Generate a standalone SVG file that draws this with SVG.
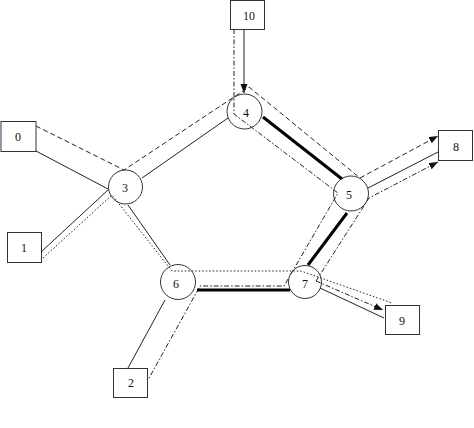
<svg xmlns="http://www.w3.org/2000/svg" width="474" height="428" viewBox="0 0 474 428">
<style>
.box{fill:#fff;stroke:#333;stroke-width:1}
.nd{fill:none;stroke:#333;stroke-width:1}
.lb{font-family:"Liberation Serif",serif;font-size:12px;fill:#111;text-anchor:middle;dominant-baseline:central}
.e{fill:none;stroke:#222;stroke-width:1}
.dash{stroke-dasharray:5,3}
.dot{stroke-dasharray:1.5,2}
.dd{stroke-dasharray:5,2,1.5,2}
.thick{fill:none;stroke:#000;stroke-width:3}
</style>
<defs>
<marker id="ah" markerUnits="userSpaceOnUse" markerWidth="10" markerHeight="8" refX="9" refY="3.5" orient="auto">
<path d="M0,0 L9,3.5 L0,7 z" fill="#111"/>
</marker>
</defs>
<rect width="474" height="428" fill="#fff"/>
<g id="connectors">
<line class="e" x1="36" y1="151" x2="108" y2="189"/>
<line class="e" x1="41" y1="252" x2="108" y2="190"/>
<line class="e" x1="142" y1="178" x2="228" y2="118"/>
<line class="e" x1="128" y1="205" x2="170" y2="265"/>
<line class="e" x1="165" y1="300" x2="128" y2="368"/>
<line class="e" x1="244" y1="29" x2="244" y2="93" marker-end="url(#ah)"/>
<line class="e" x1="368" y1="188" x2="438" y2="152"/>
<line class="e" x1="320" y1="288" x2="384" y2="318"/>
<polyline class="e dash" points="36,126 124,170 249,87 360,178 438,136" marker-end="url(#ah)"/>
<polyline class="e dot" points="43,258 112,195 172,271 301,271 392,303"/>
<polyline class="e dd" points="234,29 234,114 338,193 284,286 200,286 148,380"/>
<polyline class="e dd" points="316,281 369,198 438,162" marker-end="url(#ah)"/>
<polyline class="e dd" points="316,281 383,310" marker-end="url(#ah)"/>
<line class="thick" x1="197" y1="290" x2="290" y2="290"/>
<line class="thick" x1="308" y1="265" x2="347" y2="213"/>
<line class="thick" x1="342" y1="179" x2="263" y2="117"/>
</g>
<g id="n0"><rect class="box" x="1" y="121.5" width="35" height="30"/><text class="lb" x="18" y="137">0</text></g>
<g id="n1"><rect class="box" x="7.5" y="232.5" width="34" height="30"/><text class="lb" x="24" y="248">1</text></g>
<g id="n2"><rect class="box" x="113.5" y="368.5" width="34" height="29"/><text class="lb" x="131" y="383">2</text></g>
<g id="n3"><circle class="nd" cx="125.5" cy="187" r="17"/><text class="lb" x="125" y="188">3</text></g>
<g id="n4"><circle class="nd" cx="244.5" cy="111.5" r="17.5"/><text class="lb" x="246" y="113">4</text></g>
<g id="n5"><circle class="nd" cx="351" cy="193.5" r="17.5"/><text class="lb" x="349" y="195">5</text></g>
<g id="n6"><circle class="nd" cx="178" cy="282" r="17.5"/><text class="lb" x="176" y="284">6</text></g>
<g id="n7"><circle class="nd" cx="305" cy="282" r="16.5"/><text class="lb" x="305" y="284">7</text></g>
<g id="n8"><rect class="box" x="438.5" y="130.5" width="34" height="30"/><text class="lb" x="456" y="147">8</text></g>
<g id="n9"><rect class="box" x="385.5" y="305.5" width="34" height="29"/><text class="lb" x="402" y="321">9</text></g>
<g id="n10"><rect class="box" x="230.5" y="0.5" width="34" height="29"/><text class="lb" x="249" y="16">10</text></g>
</svg>
